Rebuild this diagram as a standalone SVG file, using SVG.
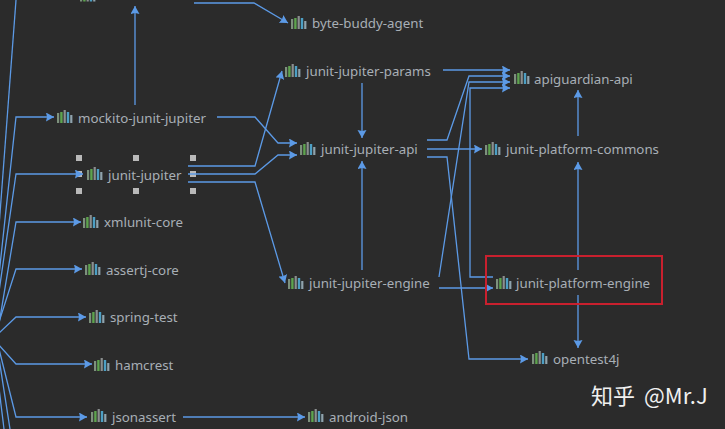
<svg xmlns="http://www.w3.org/2000/svg" width="725" height="429" viewBox="0 0 725 429">
<style>
.t{font-family:"Noto Sans","Liberation Sans",sans-serif;font-size:13.3px;fill:#a8afb6}
.c{fill:none;stroke:#5c9ae6;stroke-width:1.3;stroke-linejoin:miter}
.a{marker-end:url(#ah)}
.h{fill:#b9b9b9}
</style>
<defs>
<marker id="ah" markerUnits="userSpaceOnUse" markerWidth="10" markerHeight="10" refX="8" refY="4.500" orient="auto"><path d="M0 0L8 4.500L0 9L1 4.500Z" fill="#5c9ae6"/></marker>
<g id="ic">
<rect x="0" y="3" width="2.2" height="10" fill="#7d917d"/>
<rect x="3.2" y="2" width="2.4" height="11" fill="#5ea34f"/>
<rect x="6.6" y="0" width="2.2" height="13" fill="#8b8f8f"/>
<rect x="9.8" y="2" width="2.4" height="11" fill="#4d9fc4"/>
<rect x="13.2" y="5" width="2.2" height="8" fill="#8fa3ad"/>
</g>
</defs>
<rect width="725" height="429" fill="#2b2b2b"/>
<g id="selection">
<rect class="h" x="76" y="155" width="6" height="6"/><rect class="h" x="133" y="155" width="6" height="6"/><rect class="h" x="190" y="155" width="6" height="6"/>
<rect class="h" x="76" y="188" width="6" height="6"/><rect class="h" x="133" y="188" width="6" height="6"/><rect class="h" x="190" y="188" width="6" height="6"/>
<rect class="h" x="76" y="171" width="6" height="6"/><rect class="h" x="190" y="171" width="6" height="6"/>
</g>
<g id="connectors">
<path class="c" d="M16 0L-2 240"/>
<path class="c a" d="M-8 340L16 117L54 117"/>
<path class="c a" d="M-8 340L16 174L83 174"/>
<path class="c a" d="M-2 330L16 222L81 222"/>
<path class="c a" d="M-2 325L16 269L82 269"/>
<path class="c a" d="M-2 334L16 317L86 317"/>
<path class="c a" d="M-2 344L16 364L92 364"/>
<path class="c a" d="M-2 345L16 417L87 417"/>
<path class="c" d="M-2 352L10 429"/>
<path class="c" d="M-2 380L4 429"/>
<path class="c a" d="M135 105L135 6"/>
<path class="c a" d="M194 3L254 3L288 23"/>
<path class="c a" d="M217 117L255 117L278 143L297 143"/>
<path class="c a" d="M188 166L255 166L282 71"/>
<path class="c a" d="M188 174L255 174L278 155L297 155"/>
<path class="c a" d="M188 182L255 182L285 283"/>
<path class="c a" d="M443 70L510 70"/>
<path class="c a" d="M362 83L362 138"/>
<path class="c a" d="M362 270L362 161"/>
<path class="c a" d="M427 140L447 140L469 76L510 76"/>
<path class="c a" d="M427 149L482 149"/>
<path class="c a" d="M427 157L447 157L469 359L528 359"/>
<path class="c a" d="M439 277L469 82L510 82"/>
<path class="c a" d="M493 277L470 277L470 88L510 88"/>
<path class="c a" d="M439 288L493 288"/>
<path class="c a" d="M578 136L578 90"/>
<path class="c a" d="M578 270L578 162"/>
<path class="c a" d="M578 295L578 348"/>
<path class="c a" d="M183 417L305 417"/>
</g>
<rect id="highlight" x="486" y="256" width="176" height="48" fill="none" stroke="#c9202e" stroke-width="2"/>
<g id="top-node"><use href="#ic" x="80" y="-11.500"/></g>
<g id="byte-buddy-agent"><use href="#ic" x="291" y="16"/><text class="t" x="312" y="28">byte-buddy-agent</text></g>
<g id="junit-jupiter-params"><use href="#ic" x="285" y="64"/><text class="t" x="306" y="76">junit-jupiter-params</text></g>
<g id="apiguardian-api"><use href="#ic" x="514" y="71"/><text class="t" x="534" y="84">apiguardian-api</text></g>
<g id="mockito-junit-jupiter"><use href="#ic" x="57" y="110"/><text class="t" x="78" y="123">mockito-junit-jupiter</text></g>
<g id="junit-jupiter-api"><use href="#ic" x="300" y="142"/><text class="t" x="321" y="154">junit-jupiter-api</text></g>
<g id="junit-platform-commons"><use href="#ic" x="485" y="142"/><text class="t" x="506" y="154">junit-platform-commons</text></g>
<g id="junit-jupiter"><use href="#ic" x="87" y="167"/><text class="t" x="108" y="180">junit-jupiter</text></g>
<g id="xmlunit-core"><use href="#ic" x="83" y="215"/><text class="t" x="104" y="227">xmlunit-core</text></g>
<g id="assertj-core"><use href="#ic" x="85" y="262"/><text class="t" x="106" y="275">assertj-core</text></g>
<g id="junit-jupiter-engine"><use href="#ic" x="288" y="276"/><text class="t" x="309" y="288">junit-jupiter-engine</text></g>
<g id="junit-platform-engine"><use href="#ic" x="496" y="276"/><text class="t" x="516" y="288">junit-platform-engine</text></g>
<g id="spring-test"><use href="#ic" x="89" y="310"/><text class="t" x="110" y="322">spring-test</text></g>
<g id="opentest4j"><use href="#ic" x="532" y="351"/><text class="t" x="553" y="364">opentest4j</text></g>
<g id="hamcrest"><use href="#ic" x="94" y="358"/><text class="t" x="115" y="370">hamcrest</text></g>
<g id="jsonassert"><use href="#ic" x="91" y="409"/><text class="t" x="112" y="422">jsonassert</text></g>
<g id="android-json"><use href="#ic" x="308" y="409"/><text class="t" x="329" y="422">android-json</text></g>
<text x="591" y="404" font-family="'Noto Sans CJK SC','Noto Sans',sans-serif" font-size="22" fill="#f0f0f0">知乎 <tspan x="644">@Mr.J</tspan></text>
</svg>
